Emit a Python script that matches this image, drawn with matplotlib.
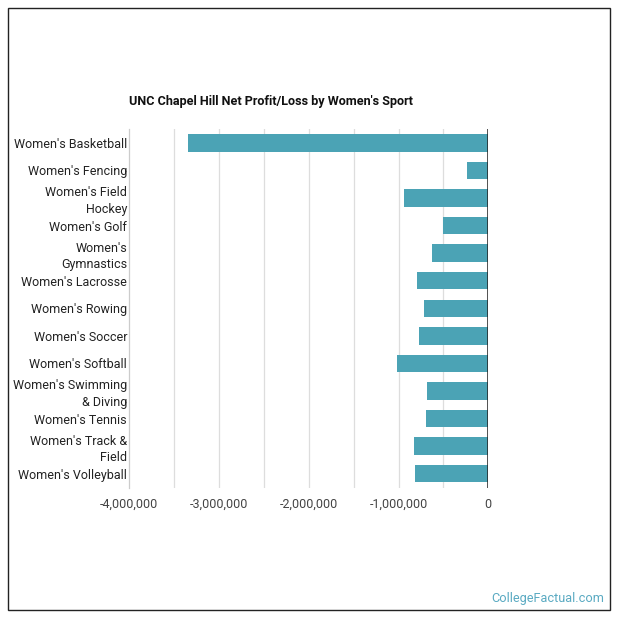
import numpy as np
import matplotlib.pyplot as plt
from matplotlib.patches import Rectangle
from matplotlib.ticker import FuncFormatter

plt.rcParams['font.family'] = ['Roboto', 'DejaVu Sans']

sports = ["Women's Basketball", "Women's Fencing", "Women's Field\nHockey", "Women's Golf",
          "Women's\nGymnastics", "Women's Lacrosse", "Women's Rowing", "Women's Soccer",
          "Women's Softball", "Women's Swimming\n& Diving", "Women's Tennis",
          "Women's Track &\nField", "Women's Volleyball"]
net = [-3347000, -240000, -935000, -508000, -624000, -790000, -713000, -768000,
       -1020000, -679000, -690000, -824000, -813000]
xticks = [-4000000, -3000000, -2000000, -1000000, 0]

fig = plt.figure(figsize=(6.2, 6.2), dpi=100)
ax = fig.add_axes([0.2084, 0.2137, 0.5792, 0.5782])

y = np.arange(len(sports))
ax.barh(y, net, height=0.635, color='#4ba3b5', zorder=3)
ax.set_ylim(len(sports) - 0.5, -0.5)
ax.set_xlim(-4000000, 0)

ax.set_yticks(y)
ax.set_yticklabels(sports, fontsize=9, color='#222222', linespacing=1.35)
ax.set_xticks(xticks)
ax.xaxis.set_major_formatter(FuncFormatter(lambda v, p: f'{int(v):,}'))
ax.tick_params(axis='x', labelsize=9, colors='#444444', length=0, pad=7.5)
ax.tick_params(axis='y', length=0, pad=1.5)

for g in np.arange(-3500000, 0, 500000):
    ax.axvline(g, color='#dddddd', lw=0.9, zorder=1)
ax.axvline(0, color='#222222', lw=1.1, zorder=4)

for s in ['top', 'right', 'bottom']:
    ax.spines[s].set_visible(False)
ax.spines['left'].set_color('#cccccc')
ax.spines['left'].set_linewidth(0.9)

fig.text(0.2084, 0.836, "UNC Chapel Hill Net Profit/Loss by Women's Sport",
         fontsize=9.1, fontweight='bold', ha='left', va='center', color='#111111')
fig.text(0.975, 0.035, 'CollegeFactual.com', fontsize=9.2, color='#5aaac2',
         ha='right', va='center')

fig.patches.append(Rectangle((0.013, 0.016), 0.971, 0.971, transform=fig.transFigure,
                             fill=False, edgecolor='#222222', lw=1.0))

fig.savefig('out.png', dpi=100, facecolor='white')
